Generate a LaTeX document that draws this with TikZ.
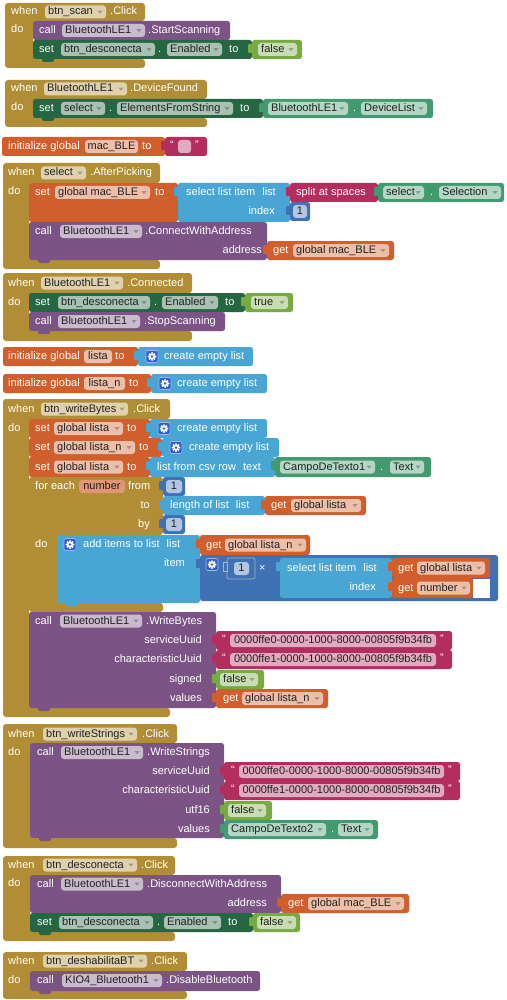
\documentclass[tikz,border=0pt]{standalone}
\usepackage{fontspec}
\setmainfont{Liberation Sans}
\usetikzlibrary{calc}
\definecolor{cgold}{HTML}{B18E35}
\definecolor{cpur}{HTML}{7C5385}
\definecolor{cset}{HTML}{266643}
\definecolor{cget}{HTML}{439970}
\definecolor{cbool}{HTML}{77AB41}
\definecolor{cvar}{HTML}{D05F2D}
\definecolor{ctxt}{HTML}{B32D5E}
\definecolor{clist}{HTML}{49A6D4}
\definecolor{cmath}{HTML}{3F71B5}
\definecolor{cgear}{HTML}{2F5FD0}
\definecolor{cftx}{HTML}{222222}
\definecolor{cnum}{HTML}{E39676}
\newcommand\fs{\fontsize{11}{13}\selectfont}
\newcounter{nn}
\newcommand\Tx[3]{\stepcounter{nn}\node[tx,anchor=west] (n\thenn) at (#1,#2) {#3};}
\newcommand\Tr[3]{\stepcounter{nn}\node[tx,anchor=east] (n\thenn) at (#1,#2) {#3};}
\newcommand\Fd[4]{\fill[white,fill opacity=0.6,rounded corners=3pt] (#1,#3-6.5) rectangle (#2,#3+6.5);
 \stepcounter{nn}\node[ftx,anchor=west] (n\thenn) at (#1+3,#3) {#4};
 \fill[black,opacity=0.25] (#2-8.5,#3-1.3) -- (#2-3.5,#3-1.3) -- (#2-6,#3+1.7) -- cycle;}
\newcommand\Fn[4]{\fill[white,fill opacity=0.6,rounded corners=3pt] (#1,#3-6.5) rectangle (#2,#3+6.5);
 \stepcounter{nn}\node[ftx] (n\thenn) at ({(#1+#2)/2},#3) {#4};}
\newcommand\Fc[5]{\fill[#1,rounded corners=3pt] (#2,#4-6.5) rectangle (#3,#4+6.5);
 \stepcounter{nn}\node[ftx] (n\thenn) at ({(#2+#3)/2},#4) {#5};}
\newcommand\Pb[5]{\fill[#1,rounded corners=2.5pt] (#2,#3) rectangle (#4,#5);}
\newcommand\Sb[5]{\fill[#1,rounded corners=2.5pt] (#2,#3) rectangle (#4,#5);
 \fill[#1,rounded corners=1.5pt] (#2+9,#5-2) rectangle (#2+21,#5+3);}
\newcommand\Vb[5]{\fill[#1,rounded corners=2.5pt] (#2,#3) rectangle (#4,#5);
 \fill[#1,rounded corners=1pt] (#2-4,#3+4) rectangle (#2+1,#3+13);}
\newcommand\Cb[8]{\fill[#1,rounded corners=3pt] (#2,#3) -- (#4,#3) -- (#4,#5) -- (#6,#5) -- (#6,#7) -- (#4,#7) -- (#4,#8) -- (#2,#8) -- cycle;}
\newcommand\Gr[2]{\fill[cgear,draw=white!55!cgear,line width=0.6pt,rounded corners=1.5pt] (#1-6,#2-6) rectangle (#1+6,#2+6);
 \foreach \a in {0,45,...,315}{\fill[white] ($(#1,#2)+(\a:3.4)$) circle (1.1pt);}
 \fill[white] (#1,#2) circle (3.1pt); \fill[cgear] (#1,#2) circle (1.3pt);}
\newcommand\Qt[3]{\Tx{#1}{#2-1}{“}\Tx{#3}{#2-1}{”}}
\begin{document}
\begin{tikzpicture}[x=1pt,y=-1pt,
 tx/.style={text=white,inner sep=0pt,font=\fs,text height=8pt,text depth=2pt},
 ftx/.style={text=cftx,inner sep=0pt,font=\fs,text height=8pt,text depth=2pt}]
\useasboundingbox (0,0) rectangle (506,1000);
\fill[white] (0,0) rectangle (506,1000);

% ---- Block 1: btn_scan.Click
\Cb{cgold}{5}{3}{145}{21}{33}{59}{68}
\Tx{11}{12}{when} \Fd{45}{106}{12}{btn\_scan} \Tx{110}{12}{.Click}
\Tx{11}{30}{do}
\Sb{cpur}{33}{21}{230}{40}
\Tx{39}{30.5}{call} \Fd{62}{145}{30.5}{BluetoothLE1} \Tx{148}{30.5}{.StartScanning}
\Sb{cset}{33}{40}{252}{59}
\Tx{39}{49.5}{set} \Fd{61}{155}{49.5}{btn\_desconecta} \Tx{158}{49.5}{.} \Fd{167}{222}{49.5}{Enabled} \Tx{229}{49.5}{to}
\Vb{cbool}{252}{40}{302}{59}
\Fd{258}{297}{49.5}{false}

% ---- Block 2: BluetoothLE1.DeviceFound
\Cb{cgold}{5}{80}{207}{99}{33}{118}{127}
\Tx{11}{89}{when} \Fd{44}{127}{89}{BluetoothLE1} \Tx{130}{89}{.DeviceFound}
\Tx{11}{108}{do}
\Sb{cset}{33}{99}{263}{118}
\Tx{39}{108.5}{set} \Fd{61}{105}{108.5}{select} \Tx{109}{108.5}{.} \Fd{117}{233}{108.5}{ElementsFromString} \Tx{240}{108.5}{to}
\Vb{cget}{263}{99}{433}{118}
\Fd{268}{348}{108.5}{BluetoothLE1} \Tx{353}{108.5}{.} \Fd{361}{427}{108.5}{DeviceList}

% ---- initialize global mac_BLE
\Pb{cvar}{2}{137}{165}{156}
\Tx{8}{146.5}{initialize global} \Fn{85}{138}{146.5}{mac\_BLE} \Tx{142}{146.5}{to}
\Vb{ctxt}{165}{137}{207}{156}
\Qt{170}{146.5}{195} \Fn{178}{191}{146.5}{}

% ---- Block 3: select.AfterPicking
\Cb{cgold}{3}{163}{160}{183}{29}{260}{269}
\Tx{8}{173}{when} \Fd{41}{86}{173}{select} \Tx{90}{173}{.AfterPicking}
\Tx{8}{192}{do}
\Sb{cvar}{29}{183}{178}{222}
\Tx{35}{192.5}{set} \Fd{55}{150}{192.5}{global mac\_BLE} \Tx{155}{192.5}{to}
\Vb{clist}{178}{183}{290}{222}
\Tx{186}{192.5}{select list item\hspace{4pt} list} \Tr{275}{211.5}{index}
\Vb{ctxt}{290}{183}{378}{202}
\Tx{296}{192.5}{split at spaces}
\Vb{cget}{378}{183}{504}{202}
\Fd{383}{424}{192.5}{select} \Tx{430}{192.5}{.} \Fd{439}{501}{192.5}{Selection}
\Vb{cmath}{290}{202}{310}{221}
\Fn{293}{307}{211.5}{1}
\Sb{cpur}{29}{222}{267}{260}
\Tx{35}{231.5}{call} \Fd{60}{142}{231.5}{BluetoothLE1} \Tx{145}{231.5}{.ConnectWithAddress}
\Tr{262}{250.5}{address}
\Vb{cvar}{267}{241}{394}{260}
\Tx{273}{250.5}{get} \Fd{293}{389}{250.5}{global mac\_BLE}

% ---- Block 4: BluetoothLE1.Connected
\Cb{cgold}{3}{273}{192}{293}{29}{331}{341}
\Tx{8}{283}{when} \Fd{41}{123}{283}{BluetoothLE1} \Tx{127}{283}{.Connected}
\Tx{8}{302}{do}
\Sb{cset}{29}{293}{245}{312}
\Tx{35}{302.5}{set} \Fd{58}{150}{302.5}{btn\_desconecta} \Tx{154}{302.5}{.} \Fd{162}{218}{302.5}{Enabled} \Tx{225}{302.5}{to}
\Vb{cbool}{245}{293}{293}{312}
\Fd{251}{288}{302.5}{true}
\Sb{cpur}{29}{312}{225}{331}
\Tx{35}{321.5}{call} \Fd{58}{140}{321.5}{BluetoothLE1} \Tx{144}{321.5}{.StopScanning}

% ---- initialize global lista
\Pb{cvar}{3}{347}{138}{366}
\Tx{8}{356.5}{initialize global} \Fn{84}{112}{356.5}{lista} \Tx{115}{356.5}{to}
\Vb{clist}{138}{347}{253}{366}
\Gr{152}{356.5} \Tx{164}{356.5}{create empty list}

% ---- initialize global lista_n
\Pb{cvar}{3}{374}{151}{393}
\Tx{8}{383.5}{initialize global} \Fn{84}{125}{383.5}{lista\_n} \Tx{129}{383.5}{to}
\Vb{clist}{151}{374}{267}{393}
\Gr{165}{383.5} \Tx{177}{383.5}{create empty list}

% ---- Block 5: btn_writeBytes.Click
\Cb{cgold}{3}{399}{170}{419}{29}{708}{717}
\Tx{8}{409}{when} \Fd{41}{128}{409}{btn\_writeBytes} \Tx{133}{409}{.Click}
\Tx{8}{428}{do}
\Sb{cvar}{29}{419}{150}{438}
\Tx{35}{428.5}{set} \Fd{54}{123}{428.5}{global lista} \Tx{127}{428.5}{to}
\Vb{clist}{150}{419}{267}{438}
\Gr{164}{428.5} \Tx{177}{428.5}{create empty list}
\Sb{cvar}{29}{438}{162}{457}
\Tx{35}{447.5}{set} \Fd{54}{135}{447.5}{global lista\_n} \Tx{139}{447.5}{to}
\Vb{clist}{162}{438}{279}{457}
\Gr{176}{447.5} \Tx{189}{447.5}{create empty list}
\Sb{cvar}{29}{457}{150}{477}
\Tx{35}{467}{set} \Fd{54}{123}{467}{global lista} \Tx{127}{467}{to}
\Vb{clist}{150}{457}{275}{477}
\Tx{157}{467}{list from csv row\hspace{4pt} text}
\Vb{cget}{275}{457}{431}{477}
\Fd{280}{375}{467}{CampoDeTexto1} \Tx{380}{467}{.} \Fd{390}{424}{467}{Text}
% for each
\Cb{cgold}{29}{477}{163}{535}{57}{603}{612}
\Tx{35}{486.5}{for each} \Fc{cnum}{79}{125}{486.5}{number} \Tx{128}{486.5}{from}
\Tr{150}{505.5}{to} \Tr{150}{524.5}{by}
\Vb{cmath}{163}{477}{185}{496}
\Fn{166}{182}{486.5}{1}
\Vb{clist}{163}{496}{265}{515}
\Tx{170}{505.5}{length of list\hspace{4pt} list}
\Vb{cvar}{265}{496}{366}{515}
\Tx{271}{505.5}{get} \Fd{291}{361}{505.5}{global lista}
\Vb{cmath}{163}{515}{185}{534}
\Fn{166}{182}{524.5}{1}
\Tx{35}{544}{do}
\Sb{clist}{57}{535}{200}{603}
\Gr{70}{544.5} \Tx{83}{544.5}{add items to list\hspace{4pt} list}
\Tr{185}{563.5}{item}
\Vb{cvar}{200}{535}{310}{555}
\Tx{206}{545}{get} \Fd{225}{306}{545}{global lista\_n}
\Vb{cmath}{200}{555}{498}{601}
\Gr{212}{564.5}
\fill[cmath,draw=black!30,line width=0.6pt,rounded corners=2pt] (227,558) rectangle (255,579);
\fill[cmath,draw=black!30,line width=0.6pt] (223,562) rectangle (227,571);
\Fn{234}{249}{568.5}{1}
\Tx{259}{568}{×}
\Vb{clist}{280}{558}{392}{598}
\Tx{287}{568}{select list item\hspace{4pt} list} \Tr{376}{587.5}{index}
\Vb{cvar}{392}{558}{490}{578}
\Tx{398}{568}{get} \Fd{417}{485}{568}{global lista}
\Vb{cvar}{392}{578}{473}{598}
\Tx{398}{588}{get} \Fd{417}{470}{588}{number}
\fill[white] (473,578.5) rectangle (490,598);
% WriteBytes
\Sb{cpur}{29}{612}{216}{708}
\Tx{35}{621}{call} \Fd{60}{142}{621}{BluetoothLE1} \Tx{146}{621}{.WriteBytes}
\Tr{202}{640.5}{serviceUuid} \Tr{202}{659.5}{characteristicUuid} \Tr{202}{679}{signed} \Tr{202}{698.5}{values}
\Vb{ctxt}{216}{631}{452}{650}
\Qt{222}{640.5}{440} \Fn{230}{436}{640.5}{0000ffe0-0000-1000-8000-00805f9b34fb}
\Vb{ctxt}{216}{650}{452}{669}
\Qt{222}{659.5}{440} \Fn{230}{436}{659.5}{0000ffe1-0000-1000-8000-00805f9b34fb}
\Vb{cbool}{216}{670}{264}{689}
\Fd{220}{258}{679.5}{false}
\Vb{cvar}{216}{689}{328}{708}
\Tx{223}{698.5}{get} \Fd{242}{323}{698.5}{global lista\_n}

% ---- Block 6: btn_writeStrings.Click
\Cb{cgold}{3}{724}{177}{743}{30}{838}{848}
\Tx{8}{734}{when} \Fd{43}{137}{734}{btn\_writeStrings} \Tx{142}{734}{.Click}
\Tx{8}{752}{do}
\Sb{cpur}{30}{743}{224}{838}
\Tx{37}{752.5}{call} \Fd{61}{143}{752.5}{BluetoothLE1} \Tx{147}{752.5}{.WriteStrings}
\Tr{210}{771.5}{serviceUuid} \Tr{210}{790.5}{characteristicUuid} \Tr{210}{810}{utf16} \Tr{210}{829.5}{values}
\Vb{ctxt}{224}{762}{460}{781}
\Qt{231}{771.5}{448} \Fn{239}{444}{771.5}{0000ffe0-0000-1000-8000-00805f9b34fb}
\Vb{ctxt}{224}{781}{460}{800}
\Qt{231}{790.5}{448} \Fn{239}{444}{790.5}{0000ffe1-0000-1000-8000-00805f9b34fb}
\Vb{cbool}{224}{801}{272}{820}
\Fd{228}{266}{810.5}{false}
\Vb{cget}{224}{820}{378}{839}
\Fd{228}{326}{829.5}{CampoDeTexto2} \Tx{331}{829.5}{.} \Fd{338}{373}{829.5}{Text}

% ---- Block 7: btn_desconecta.Click
\Cb{cgold}{3}{856}{175}{875}{30}{932}{941}
\Tx{8}{865}{when} \Fd{43}{137}{865}{btn\_desconecta} \Tx{141}{865}{.Click}
\Tx{8}{883}{do}
\Sb{cpur}{30}{875}{281}{913}
\Tx{37}{884}{call} \Fd{61}{143}{884}{BluetoothLE1} \Tx{147}{884}{.DisconnectWithAddress}
\Tr{267}{903}{address}
\Vb{cvar}{281}{894}{409}{913}
\Tx{288}{903.5}{get} \Fd{308}{404}{903.5}{global mac\_BLE}
\Sb{cset}{30}{913}{253}{932}
\Tx{37}{922.5}{set} \Fd{59}{153}{922.5}{btn\_desconecta} \Tx{157}{922.5}{.} \Fd{164}{221}{922.5}{Enabled} \Tx{228}{922.5}{to}
\Vb{cbool}{253}{913}{300}{932}
\Fd{257}{296}{922.5}{false}

% ---- Block 8: btn_deshabilitaBT.Click
\Cb{cgold}{3}{952}{187}{971}{30}{991}{999}
\Tx{8}{961}{when} \Fd{43}{147}{961}{btn\_deshabilitaBT} \Tx{151}{961}{.Click}
\Tx{8}{980}{do}
\Sb{cpur}{30}{971}{260}{991}
\Tx{37}{980.5}{call} \Fd{62}{162}{980.5}{KIO4\_Bluetooth1} \Tx{166}{980.5}{.DisableBluetooth}
\end{tikzpicture}
\end{document}
